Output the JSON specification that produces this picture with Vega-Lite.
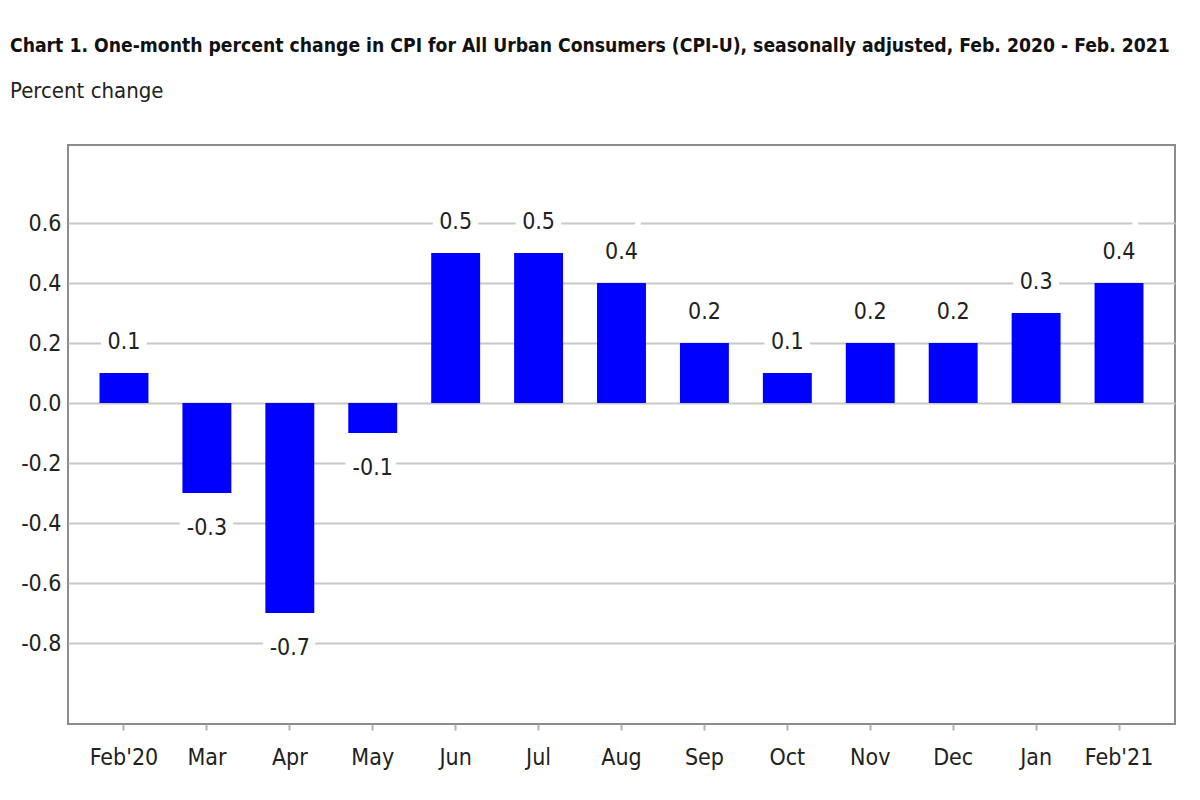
{
  "$schema": "https://vega.github.io/schema/vega-lite/v6.json",
  "autosize": "none",
  "width": 1107,
  "height": 579,
  "padding": {"left": 68, "top": 145, "right": 25, "bottom": 76},
  "background": "white",
  "title": {
    "text": "Chart 1. One-month percent change in CPI for All Urban Consumers (CPI-U), seasonally adjusted, Feb. 2020 - Feb. 2021",
    "subtitle": "Percent change",
    "anchor": "start",
    "frame": "group",
    "dx": -58,
    "offset": 43,
    "font": "'DejaVu Sans Condensed', 'Liberation Sans', sans-serif",
    "fontSize": 19.2,
    "fontWeight": "bold",
    "color": "#111111",
    "subtitleFont": "'DejaVu Sans Condensed', 'Liberation Sans', sans-serif",
    "subtitleFontSize": 22,
    "subtitleColor": "#222222",
    "subtitlePadding": 25
  },
  "config": {
    "view": {"stroke": "#8c8c8c", "strokeWidth": 2},
    "font": "'DejaVu Sans Condensed', 'Liberation Sans', sans-serif",
    "locale": {
      "number": {"decimal": ".", "thousands": ",", "grouping": [3], "currency": ["$", ""], "minus": "-"}
    }
  },
  "data": {
    "values": [
      {"month": "Feb'20", "change": 0.1},
      {"month": "Mar", "change": -0.3},
      {"month": "Apr", "change": -0.7},
      {"month": "May", "change": -0.1},
      {"month": "Jun", "change": 0.5},
      {"month": "Jul", "change": 0.5},
      {"month": "Aug", "change": 0.4},
      {"month": "Sep", "change": 0.2},
      {"month": "Oct", "change": 0.1},
      {"month": "Nov", "change": 0.2},
      {"month": "Dec", "change": 0.2},
      {"month": "Jan", "change": 0.3},
      {"month": "Feb'21", "change": 0.4}
    ]
  },
  "encoding": {
    "x": {
      "field": "month",
      "type": "nominal",
      "sort": null,
      "scale": {"paddingInner": 0.41, "paddingOuter": 0.38},
      "axis": {
        "title": null,
        "labelAngle": 0,
        "labelFontSize": 23,
        "labelColor": "#222222",
        "labelPadding": 16,
        "domain": false,
        "ticks": true,
        "tickColor": "#b0b0b0",
        "tickSize": 6,
        "tickWidth": 2,
        "grid": false
      }
    },
    "y": {
      "field": "change",
      "type": "quantitative",
      "scale": {"domain": [-1.07, 0.86], "nice": false, "zero": false},
      "axis": {
        "title": null,
        "values": [-0.8, -0.6, -0.4, -0.2, 0, 0.2, 0.4, 0.6],
        "format": ".1f",
        "labelFontSize": 23,
        "labelColor": "#222222",
        "labelPadding": 7,
        "domain": false,
        "ticks": false,
        "grid": true,
        "gridColor": "#c8c8c8",
        "gridWidth": 2
      }
    }
  },
  "layer": [
    {"mark": {"type": "bar", "color": "#0000ff"}},
    {
      "transform": [{"filter": "datum.change > 0"}],
      "mark": {"type": "text", "baseline": "middle", "dy": -31, "fontSize": 23, "stroke": "white", "strokeWidth": 16, "strokeJoin": "miter", "color": "white"},
      "encoding": {"text": {"field": "change", "format": ".1f"}}
    },
    {
      "transform": [{"filter": "datum.change > 0"}],
      "mark": {"type": "text", "baseline": "middle", "dy": -31, "fontSize": 23, "color": "#222222"},
      "encoding": {"text": {"field": "change", "format": ".1f"}}
    },
    {
      "transform": [{"filter": "datum.change < 0"}],
      "mark": {"type": "text", "baseline": "middle", "dy": 35, "fontSize": 23, "stroke": "white", "strokeWidth": 16, "strokeJoin": "miter", "color": "white"},
      "encoding": {"text": {"field": "change", "format": ".1f"}}
    },
    {
      "transform": [{"filter": "datum.change < 0"}],
      "mark": {"type": "text", "baseline": "middle", "dy": 35, "fontSize": 23, "color": "#222222"},
      "encoding": {"text": {"field": "change", "format": ".1f"}}
    }
  ]
}
